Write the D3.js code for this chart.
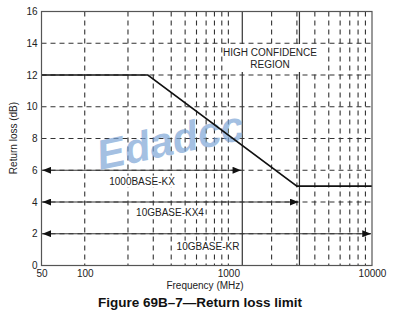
<!DOCTYPE html>
<html>
<head>
<meta charset="utf-8">
<script src="https://cdn.jsdelivr.net/npm/d3@7"></script>
<style>
  body { margin: 0; background: #fff; }
  svg text { font-family: "Liberation Sans", Arial, sans-serif; fill: #222; }
</style>
</head>
<body>
<div id="chart"></div>
<script>
    // return loss limit
    var limitFreq = [50, 275, 3000, 10000];
    var limitLoss = [12, 12, 5, 5];

    var portNames = ["1000BASE-KX", "10GBASE-KX4", "10GBASE-KR"];
    var portEnds = [1250, 3125, 10000];
    var portLevels = [6, 4, 2];

    var xTicks = [50, 100, 1000, 10000];
    var xGrid = [100, 200, 300, 400, 500, 600, 700, 800, 900, 1000, 2000, 3000, 4000, 5000, 6000, 7000, 8000, 9000];
    var yTicks = [0, 2, 4, 6, 8, 10, 12, 14, 16];

    var svg = d3.select("#chart").append("svg")
        .attr("width", 400)
        .attr("height", 334);

    var x = d3.scaleLog().domain([50, 10000]).range([41.5, 372]);
    var y = d3.scaleLinear().domain([0, 16]).range([265.5, 11.5]);

    var defs = svg.append("defs");
    defs.append("marker").attr("id", "headR")
        .attr("viewBox", "0 0 10 8").attr("refX", 10).attr("refY", 4)
        .attr("markerWidth", 9).attr("markerHeight", 7).attr("markerUnits", "userSpaceOnUse")
        .attr("orient", "auto")
        .append("path").attr("d", "M0,0L10,4L0,8Z").attr("fill", "#111");
    defs.append("marker").attr("id", "headL")
        .attr("viewBox", "0 0 10 8").attr("refX", 0).attr("refY", 4)
        .attr("markerWidth", 9).attr("markerHeight", 7).attr("markerUnits", "userSpaceOnUse")
        .attr("orient", "auto")
        .append("path").attr("d", "M10,0L0,4L10,8Z").attr("fill", "#111");

    // dashed grid
    svg.append("g").selectAll("line").data(xGrid).enter().append("line")
        .attr("x1", function (d) { return x(d); }).attr("x2", function (d) { return x(d); })
        .attr("y1", y(16)).attr("y2", y(0))
        .attr("stroke", "#333").attr("stroke-width", 1.1).attr("stroke-dasharray", "5,4");
    svg.append("g").selectAll("line").data(yTicks.slice(1, -1)).enter().append("line")
        .attr("y1", function (d) { return y(d); }).attr("y2", function (d) { return y(d); })
        .attr("x1", x(50)).attr("x2", x(10000))
        .attr("stroke", "#333").attr("stroke-width", 1.1).attr("stroke-dasharray", "5,4");

    // solid verticals at the end of each port range
    svg.append("g").selectAll("line").data(portEnds.slice(0, 2)).enter().append("line")
        .attr("x1", function (d) { return x(d); }).attr("x2", function (d) { return x(d); })
        .attr("y1", y(16)).attr("y2", y(0))
        .attr("stroke", "#333").attr("stroke-width", 1.2);

    // port arrows
    svg.append("g").selectAll("line").data(portEnds).enter().append("line")
        .attr("x1", x(50) + 1).attr("x2", function (d) { return x(d) - 1; })
        .attr("y1", function (d, i) { return y(portLevels[i]); })
        .attr("y2", function (d, i) { return y(portLevels[i]); })
        .attr("stroke", "#333").attr("stroke-width", 1.2)
        .attr("marker-start", "url(#headL)").attr("marker-end", "url(#headR)");

    // port labels on white boxes
    var labelPos = [[142, 5.1], [170, 3.1], [208, 1.0]];
    var labels = svg.append("g").selectAll("g").data(portNames).enter().append("g")
        .attr("transform", function (d, i) { return "translate(" + labelPos[i][0] + "," + y(labelPos[i][1]) + ")"; });
    labels.append("rect")
        .attr("x", function (d) { return -d.length * 3.2; }).attr("y", -9)
        .attr("width", function (d) { return d.length * 6.4; }).attr("height", 12)
        .attr("fill", "#fff");
    labels.append("text").attr("text-anchor", "middle").attr("font-size", 10)
        .text(function (d) { return d; });

    // high confidence box
    svg.append("rect").attr("x", 224).attr("y", 44).attr("width", 92).attr("height", 28).attr("fill", "#fff");
    svg.append("text").attr("x", 270).attr("y", 56).attr("text-anchor", "middle").attr("font-size", 10).text("HIGH CONFIDENCE");
    svg.append("text").attr("x", 270).attr("y", 68).attr("text-anchor", "middle").attr("font-size", 10).text("REGION");

    // watermark
    svg.append("text").attr("transform", "translate(100,170) rotate(-12)")
        .attr("font-size", 42).attr("font-weight", "bold").attr("font-style", "italic")
        .style("fill", "#7ea6d6").attr("opacity", 0.7).text("Edadcc");

    // limit line
    var line = d3.line()
        .x(function (d, i) { return x(limitFreq[i]); })
        .y(function (d) { return y(d); });
    svg.append("path").datum(limitLoss).attr("d", line)
        .attr("fill", "none").attr("stroke", "#111").attr("stroke-width", 1.6);

    // frame
    svg.append("rect").attr("x", x(50)).attr("y", y(16))
        .attr("width", x(10000) - x(50)).attr("height", y(0) - y(16))
        .attr("fill", "none").attr("stroke", "#555").attr("stroke-width", 1.2);

    // axes
    var xAxis = d3.axisBottom(x).tickValues(xTicks).tickFormat(d3.format("d")).tickSize(0).tickPadding(4);
    var gx = svg.append("g").attr("transform", "translate(0," + y(0) + ")").call(xAxis);
    gx.select(".domain").remove();
    gx.selectAll("text").attr("font-size", 10).style("fill", "#222");

    var yAxis = d3.axisLeft(y).tickValues(yTicks).tickSize(0).tickPadding(4);
    var gy = svg.append("g").attr("transform", "translate(" + x(50) + ",0)").call(yAxis);
    gy.select(".domain").remove();
    gy.selectAll("text").attr("font-size", 10).style("fill", "#222");

    svg.append("text").attr("x", 205).attr("y", 289).attr("text-anchor", "middle")
        .attr("font-size", 10).text("Frequency (MHz)");
    svg.append("text").attr("transform", "translate(17,138) rotate(-90)").attr("text-anchor", "middle")
        .attr("font-size", 10).text("Return loss (dB)");

    svg.append("text").attr("x", 200).attr("y", 307).attr("text-anchor", "middle")
        .attr("font-size", 13.5).attr("font-weight", "bold").style("fill", "#111")
        .text("Figure 69B\u20137\u2014Return loss limit");
</script>
</body>
</html>
